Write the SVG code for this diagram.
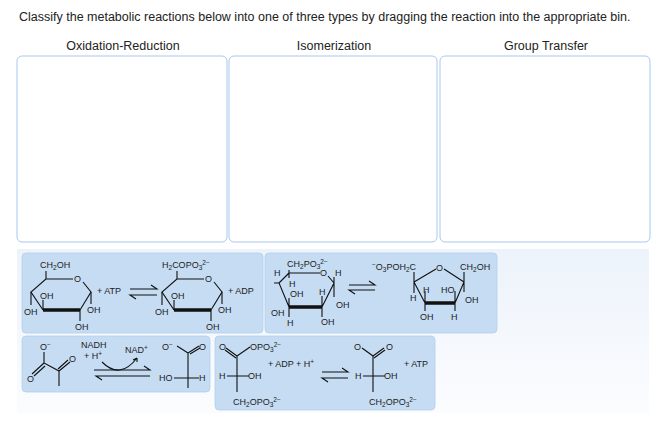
<svg xmlns="http://www.w3.org/2000/svg" width="655" height="426" viewBox="0 0 655 426">
<defs>
<linearGradient id="pg" x1="0" y1="0" x2="0" y2="1"><stop offset="0" stop-color="#edf3fb"/><stop offset="1" stop-color="#fbfcfe"/></linearGradient>
</defs>
<style>
text{font-family:"Liberation Sans",Arial,sans-serif;fill:#222}
.t{font-size:12.5px}
.h{font-size:12.5px;text-anchor:middle}
.c{font-size:9px}
.s{font-size:6.5px}
.bin{fill:#fff;stroke:#a9c8ec;stroke-width:1}
.tile{fill:#c5dcf3;stroke:#b4cfee;stroke-width:0.8}
.b{stroke:#111;stroke-width:1.1;fill:none}
.k{stroke:#111;stroke-width:3.5}
</style>
<rect width="655" height="426" fill="#fff"/>
<text class="t" x="19" y="21">Classify the metabolic reactions below into one of three types by dragging the reaction into the appropriate bin.</text>
<g id="bin-redox"><text class="h" x="123" y="50">Oxidation-Reduction</text><rect class="bin" x="17" y="56" width="210" height="186" rx="5"/></g>
<g id="bin-isomer"><text class="h" x="334" y="50">Isomerization</text><rect class="bin" x="229" y="56" width="208" height="186" rx="5"/></g>
<g id="bin-group"><text class="h" x="546" y="50">Group Transfer</text><rect class="bin" x="440" y="56" width="210" height="186" rx="5"/></g>
<rect x="17" y="249" width="632" height="164" fill="url(#pg)"/>

<g id="tile-hexokinase">
<rect class="tile" x="22" y="253" width="241" height="80" rx="4"/>
<g id="glc">
<text class="c" x="40" y="268">CH<tspan class="s" dy="2">2</tspan><tspan dy="-2">OH</tspan></text>
<path class="b" d="M46,271V279L31,292L43,310M80,310L91,292L83,282M46,279H73"/>
<line class="k" x1="43" y1="310" x2="80" y2="310"/>
<text class="c" x="74" y="282">O</text>
<path class="b" d="M31,292V305M43,310V300M80,310V321M91,292V304"/>
<text class="c" x="24" y="315">OH</text><text class="c" x="40" y="299">OH</text><text class="c" x="75" y="330">OH</text><text class="c" x="87" y="313">OH</text>
</g>
<text class="c" x="97" y="294">+ ATP</text>
<path class="b" d="M130,289H157L151,285M157,295H130L136,299"/>
<g id="g6p">
<text class="c" x="162" y="268">H<tspan class="s" dy="2">2</tspan><tspan dy="-2">COPO</tspan><tspan class="s" dy="2">3</tspan><tspan class="s" dy="-5">2−</tspan></text>
<path class="b" d="M177,271V279L162,292L174,310M211,310L222,292L214,282M177,279H204"/>
<line class="k" x1="174" y1="310" x2="211" y2="310"/>
<text class="c" x="205" y="282">O</text>
<path class="b" d="M162,292V305M174,310V300M211,310V321M222,292V304"/>
<text class="c" x="155" y="315">OH</text><text class="c" x="171" y="299">OH</text><text class="c" x="206" y="330">OH</text><text class="c" x="218" y="313">OH</text>
</g>
<text class="c" x="228" y="294">+ ADP</text>
</g>

<g id="tile-isomerase">
<rect class="tile" x="265" y="253" width="232" height="80" rx="4"/>
<text class="c" x="287" y="267">CH<tspan class="s" dy="2">2</tspan><tspan dy="-2">PO</tspan><tspan class="s" dy="2">3</tspan><tspan class="s" dy="-5">2−</tspan></text>
<path class="b" d="M289,270V278M289,273H320M328,276L334,283L322,307M289,307L279,283L289,273M279,283H274M334,283V297M322,307V317M289,307V317M289,307V298M322,307V296M334,283L334,277"/>
<line class="k" x1="289" y1="307" x2="322" y2="307"/>
<text class="c" x="320" y="276">O</text>
<text class="c" x="274" y="276">H</text><text class="c" x="289" y="287">H</text><text class="c" x="335" y="276">H</text>
<text class="c" x="290" y="297">OH</text><text class="c" x="271" y="316">OH</text><text class="c" x="287" y="326">H</text>
<text class="c" x="319" y="295">H</text><text class="c" x="336" y="308">OH</text><text class="c" x="321" y="325">OH</text>
<path class="b" d="M349,285H375L369,281M375,290H349L355,294"/>
<text class="c" x="372" y="270"><tspan class="s" dy="-3">−</tspan><tspan dy="3">O</tspan><tspan class="s" dy="2">3</tspan><tspan dy="-2">POH</tspan><tspan class="s" dy="2">2</tspan><tspan dy="-2">C</tspan></text>
<path class="b" d="M414,272V282L436,269M444,269L464,282L455,303M425,303L414,282M414,282V293M425,303V291M455,303V291M464,282V292M425,303V311M455,303V311M464,272V282"/>
<line class="k" x1="425" y1="303" x2="455" y2="303"/>
<text class="c" x="436" y="271">O</text>
<text class="c" x="460" y="270">CH<tspan class="s" dy="2">2</tspan><tspan dy="-2">OH</tspan></text>
<text class="c" x="410" y="301">H</text><text class="c" x="423" y="293">H</text><text class="c" x="441" y="293">HO</text><text class="c" x="465" y="303">OH</text>
<text class="c" x="420" y="320">OH</text><text class="c" x="451" y="320">H</text>
</g>

<g id="tile-ldh">
<rect class="tile" x="22" y="336" width="188" height="56" rx="4"/>
<text class="c" x="40" y="350">O<tspan class="s" dy="-3">−</tspan></text>
<path class="b" d="M44,352V363L59,371L70,362M58,369L68,360M44,363L32,374M45,366L34,376M59,371V386"/>
<text class="c" x="27" y="382">O</text><text class="c" x="69" y="362">O</text>
<text class="c" x="81" y="348">NADH</text><text class="c" x="84" y="359">+ H<tspan class="s" dy="-3">+</tspan></text>
<text class="c" x="125" y="353">NAD<tspan class="s" dy="-3">+</tspan></text>
<path class="b" d="M94,370H150L144,366M150,376H96L102,380"/>
<path class="b" d="M102,362Q120,380 137,358M137,358L133,360M137,358L137,362"/>
<path class="b" d="M188,353L177,346M188,353L199,346M190,354L200,348M188,353V388M174,378H199"/>
<text class="c" x="162" y="350">O<tspan class="s" dy="-3">−</tspan></text><text class="c" x="199" y="350">O</text>
<text class="c" x="159" y="381">HO</text><text class="c" x="199" y="381">H</text>
</g>

<g id="tile-pgk">
<rect class="tile" x="215" y="336" width="220" height="74" rx="4"/>
<text class="c" x="219" y="350">O</text>
<path class="b" d="M237,356L226,348M236,358L225,350M237,356L250,347M237,356V392M227,376H249"/>
<text class="c" x="250" y="350">OPO<tspan class="s" dy="2">3</tspan><tspan class="s" dy="-5">2−</tspan></text>
<text class="c" x="219" y="379">H</text><text class="c" x="248" y="379">OH</text>
<text class="c" x="233" y="405">CH<tspan class="s" dy="2">2</tspan><tspan dy="-2">OPO</tspan><tspan class="s" dy="2">3</tspan><tspan class="s" dy="-5">2−</tspan></text>
<text class="c" x="268" y="367">+ ADP + H<tspan class="s" dy="-3">+</tspan></text>
<path class="b" d="M322,372H348L342,368M348,378H322L328,382"/>
<text class="c" x="354" y="350">O</text>
<path class="b" d="M373,356L362,348M373,356L384,348M374,358L385,350M373,356V392M363,376H385"/>
<text class="c" x="386" y="350">O</text>
<text class="c" x="355" y="379">H</text><text class="c" x="384" y="379">OH</text>
<text class="c" x="369" y="405">CH<tspan class="s" dy="2">2</tspan><tspan dy="-2">OPO</tspan><tspan class="s" dy="2">3</tspan><tspan class="s" dy="-5">2−</tspan></text>
<text class="c" x="404" y="367">+ ATP</text>
</g>
</svg>
